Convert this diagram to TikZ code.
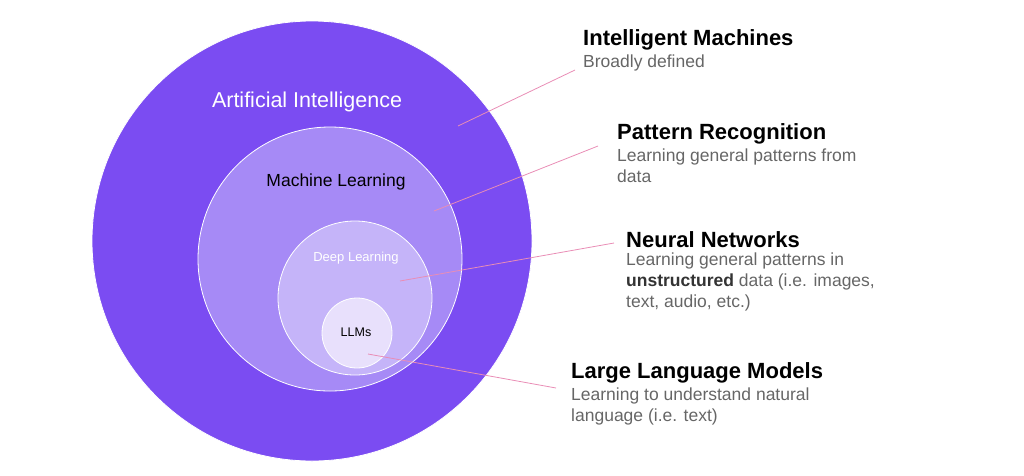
\documentclass[tikz,border=0pt]{standalone}
\usepackage{fontspec}
\setmainfont{Liberation Sans}
\definecolor{aiPurple}{HTML}{7B4CF2}
\definecolor{mlPurple}{HTML}{A68AF6}
\definecolor{dlPurple}{HTML}{C5B4F9}
\definecolor{llmPurple}{HTML}{E8E0FC}
\definecolor{leader}{HTML}{E98DB6}
\definecolor{subGray}{HTML}{666666}
\begin{document}
\begin{tikzpicture}[x=1pt,y=-1pt,
  ring/.style={circle,draw=white,line width=0.8pt,inner sep=0pt},
  title/.style={anchor=west,font=\bfseries\fontsize{22}{24}\selectfont,inner sep=0pt},
  sub/.style={anchor=north west,align=left,text=subGray,font=\fontsize{17.5}{21}\selectfont,inner sep=0pt},
  leadline/.style={leader,line width=0.8pt}]
\useasboundingbox (0,0) rectangle (1024,475);

% Nested circles
\node[ring,fill=aiPurple,minimum size=440pt] (ai) at (312,241) {};
\node[ring,fill=mlPurple,minimum size=264pt] (ml) at (330,259) {};
\node[ring,fill=dlPurple,minimum size=154pt] (dl) at (355,298) {};
\node[ring,fill=llmPurple,minimum size=70pt] (llm) at (357,333) {};

% Circle labels
\node[text=white,font=\fontsize{21.5}{24}\selectfont] (aiLabel) at (307,102) {Artificial Intelligence};
\node[font=\fontsize{17.5}{20}\selectfont] (mlLabel) at (336,182) {Machine Learning};
\node[text=white,font=\fontsize{13}{15}\selectfont] (dlLabel) at (356,258) {Deep Learning};
\node[font=\fontsize{12.5}{15}\selectfont] (llmLabel) at (356,332) {LLMs};

% Descriptions
\node[title] (imTitle) at (583,40) {Intelligent Machines};
\node[sub] (imSub) at (imTitle.south west) [yshift=-4pt] {Broadly defined};
\node[title] (prTitle) at (617,134) {Pattern Recognition};
\node[sub] (prSub) at (prTitle.south west) [yshift=-4pt] {Learning general patterns from\\data};
\node[title] (nnTitle) at (626,240) {Neural Networks};
\node[sub] (nnSub) at (nnTitle.south west) [yshift=-4pt] {Learning general patterns in\\\textbf{\color{black!80}unstructured} data (i.e. images,\\text, audio, etc.)};
\node[title] (lmTitle) at (571,373) {Large Language Models};
\node[sub] (lmSub) at (lmTitle.south west) [yshift=-4pt] {Learning to understand natural\\language (i.e. text)};

% Leader lines
\coordinate (aiEnd) at (458,126);
\coordinate (mlEnd) at (434,211);
\coordinate (dlEnd) at (400,281);
\coordinate (llmEnd) at (368,354);
\draw[leadline] (aiEnd) -- (575,70);
\draw[leadline] (mlEnd) -- (598,146);
\draw[leadline] (dlEnd) -- (614,243);
\draw[leadline] (llmEnd) -- (556,388);
\end{tikzpicture}
\end{document}
